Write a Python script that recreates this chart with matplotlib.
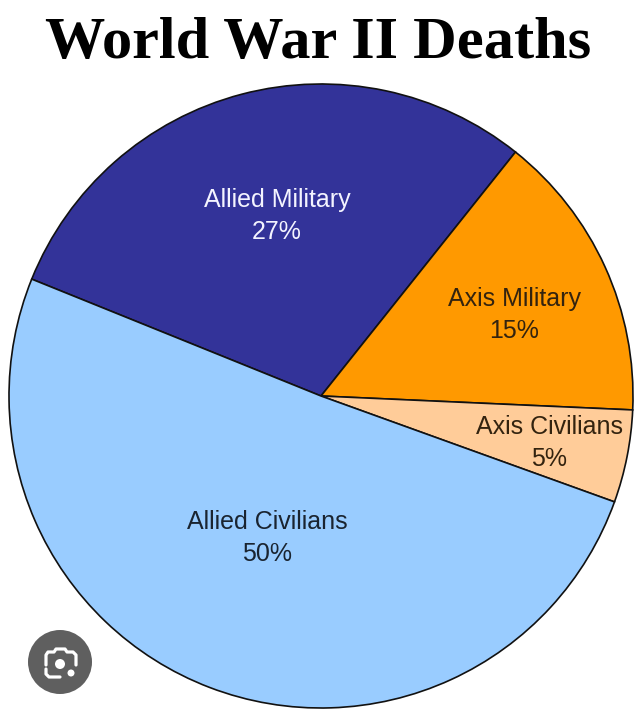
import matplotlib
matplotlib.use("Agg")
import matplotlib.pyplot as plt
from matplotlib.patches import Circle

categories = ["Allied Military", "Axis Military", "Axis Civilians", "Allied Civilians"]
# Slice sizes as drawn in the picture (the printed labels sum to 97%)
slice_sizes = [29.6, 15.0, 4.8, 50.6]
percent_labels = ["27%", "15%", "5%", "50%"]
colors = ["#333399", "#FF9900", "#FFCC99", "#99CCFF"]
text_colors = ["#F4F4FF", "#33230F", "#33230F", "#1A2430"]
label_xy = [(277, 216), (514, 315), (549, 443), (267, 538)]
title = "World War II Deaths"

W, H = 640, 710
fig = plt.figure(figsize=(W / 100, H / 100), dpi=100, facecolor="white")
ax = fig.add_axes([0, 0, 1, 1])

cx, cy, r = 321, 396, 312
# y axis is inverted below, so counterclock=True runs clockwise on screen
ax.pie(slice_sizes, colors=colors, startangle=-158, counterclock=True,
       radius=r, center=(cx, cy), frame=True,
       wedgeprops=dict(edgecolor="#111111", linewidth=1.2))
ax.set_xlim(0, W)
ax.set_ylim(H, 0)
ax.set_aspect("equal")
ax.axis("off")

for name, pct, col, (x, y) in zip(categories, percent_labels, text_colors, label_xy):
    ax.text(x, y, f"{name}\n{pct}", color=col, ha="center", va="center",
            fontsize=18, family="Liberation Sans", linespacing=1.4)

ax.text(318, 44, title, ha="center", va="center", fontsize=43.5,
        family="Liberation Serif", fontweight="bold", color="black")

# Image-search lens badge in the lower-left corner
badge = "#5F5F5F"
ax.add_patch(Circle((60, 662), 32, facecolor=badge, edgecolor="none", zorder=5))
line_kw = dict(color="white", linewidth=2.3, solid_capstyle="round",
               solid_joinstyle="round", zorder=6)
ax.plot([46, 46, 48, 54, 56, 65, 67, 73, 76, 76],
        [665, 655, 652, 652, 649, 649, 652, 652, 655, 665], **line_kw)
ax.plot([46, 46, 49, 60], [669, 674, 677, 677], **line_kw)
ax.add_patch(Circle((60, 664), 5, facecolor="white", edgecolor="none", zorder=7))
ax.add_patch(Circle((71, 673), 3.5, facecolor="white", edgecolor="none", zorder=7))

fig.savefig("out.png", dpi=100)
